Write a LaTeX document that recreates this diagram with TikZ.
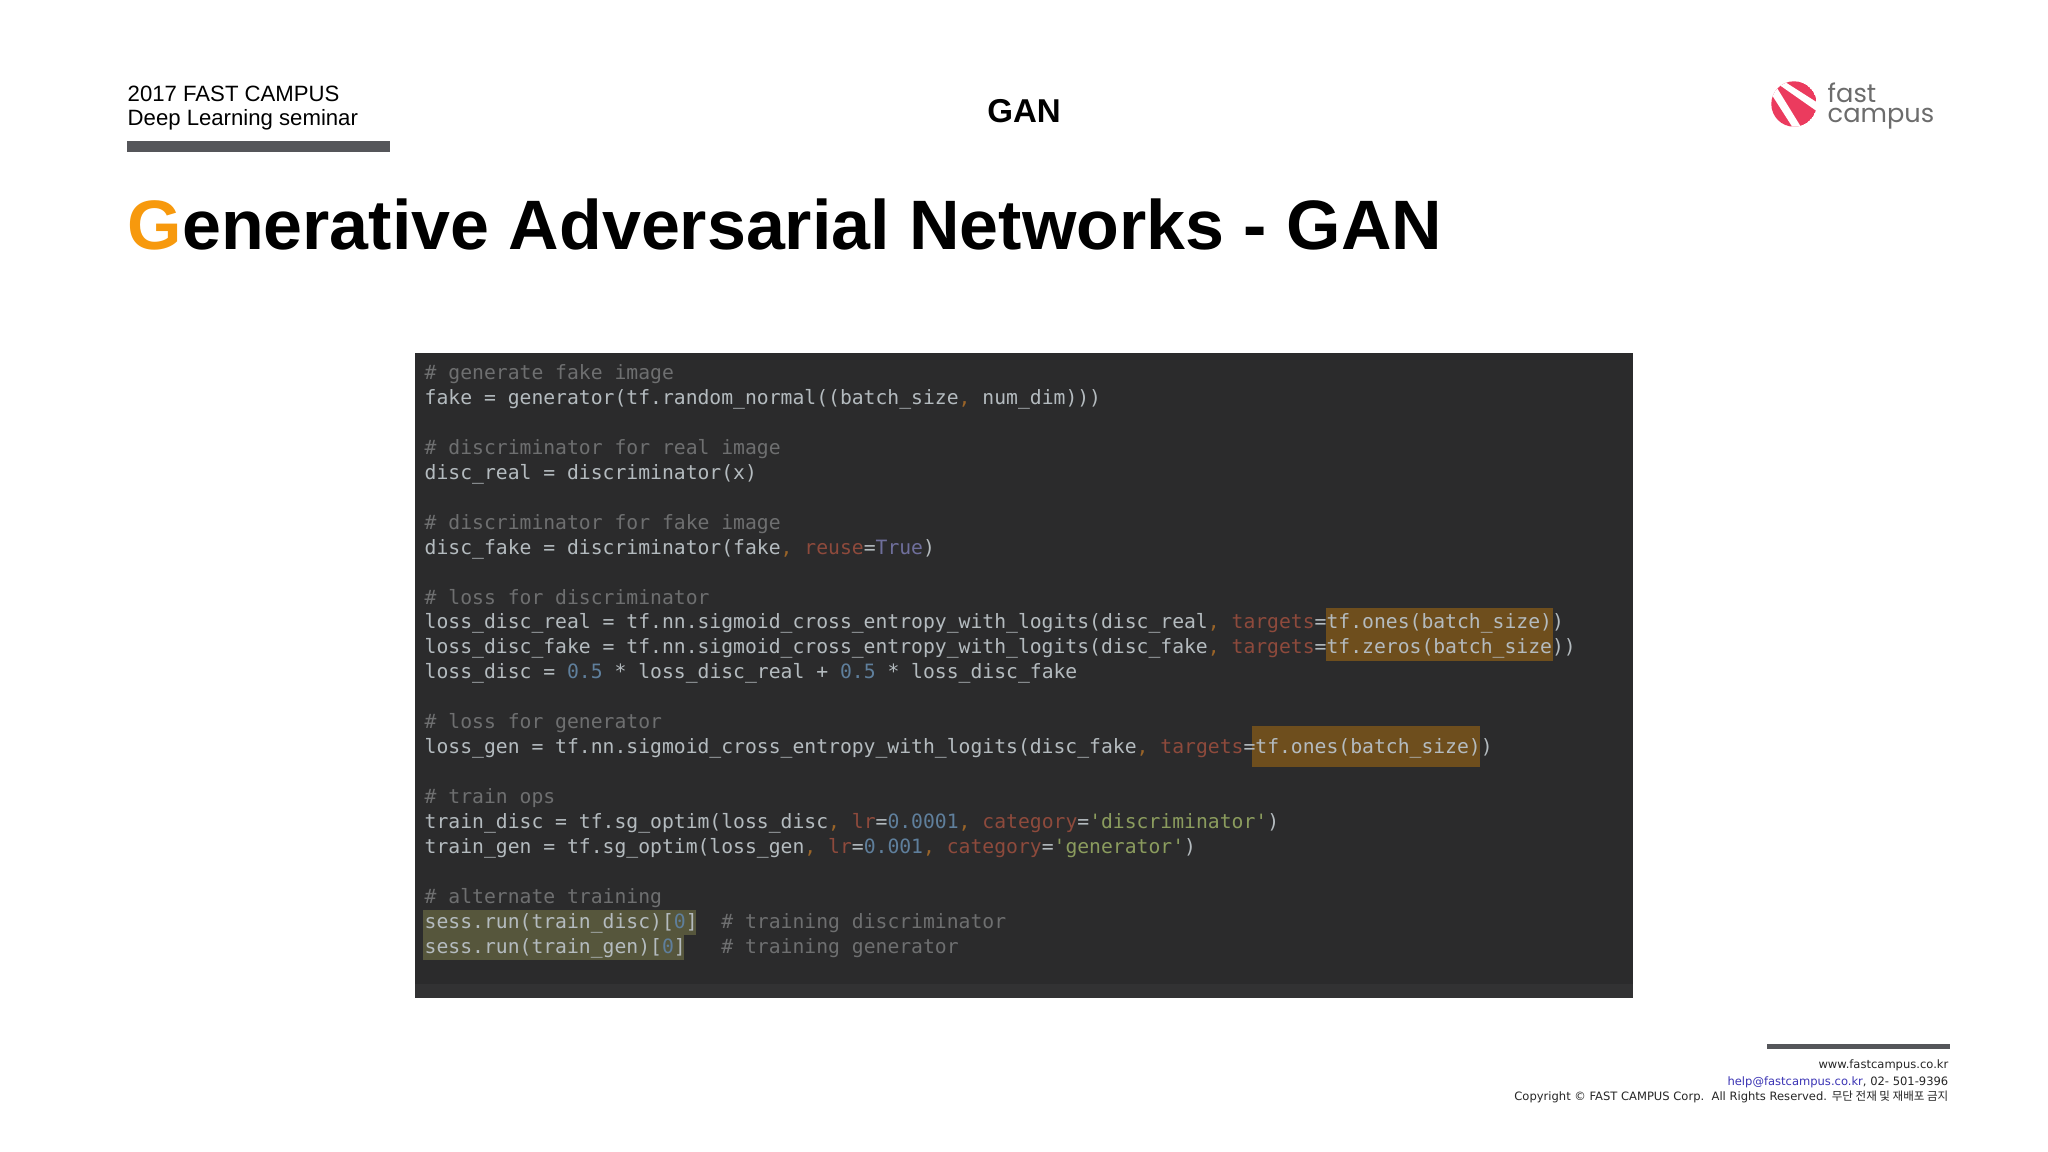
\documentclass[tikz,border=0pt]{standalone}
\usepackage{fontspec}
\setmainfont{Liberation Sans}
\newfontfamily\codefont{DejaVu Sans Mono}
\newfontfamily\footfont{DejaVu Sans}
\newfontfamily\krfont{Noto Sans CJK KR}
\newfontfamily\logofont{Poppins}
\definecolor{panelbg}{HTML}{2B2B2C}
\definecolor{panelband}{HTML}{323233}
\definecolor{codefg}{HTML}{B4BBBF}
\definecolor{cmtfg}{HTML}{6E6F70}
\definecolor{argfg}{HTML}{8E4A3C}
\definecolor{commafg}{HTML}{9A6428}
\definecolor{numfg}{HTML}{5F7F9C}
\definecolor{strfg}{HTML}{8B9C5E}
\definecolor{truefg}{HTML}{6F6F9C}
\definecolor{hiorange}{HTML}{6E4E1D}
\definecolor{hiolive}{HTML}{56563C}
\definecolor{barfg}{HTML}{55565A}
\definecolor{logored}{HTML}{EB3B5E}
\definecolor{logofg}{HTML}{6C6C6C}
\definecolor{titleorange}{HTML}{F7990D}
\definecolor{mailblue}{HTML}{3A33B4}
\newcommand{\Cm}[1]{\textcolor{cmtfg}{#1}}
\newcommand{\Ar}[1]{\textcolor{argfg}{#1}}
\newcommand{\Nm}[1]{\textcolor{numfg}{#1}}
\newcommand{\Cc}{\textcolor{commafg}{,}}
\tikzset{
  codeline/.style={anchor=base west, inner sep=0pt, text=codefg, font=\codefont\fontsize{5.605}{6.7}\selectfont},
  footline/.style={anchor=base east, inner sep=0pt, text=black!85, font=\footfont\fontsize{3.28}{4}\selectfont},
  headline/.style={anchor=base west, inner sep=0pt, text=black, font=\fontsize{6.3}{7.5}\selectfont},
  logoline/.style={anchor=base west, inner sep=0pt, text=logofg, font=\logofont\fontsize{7.3}{8}\selectfont},
}
\begin{document}
\begin{tikzpicture}[x=0.01cm, y=-0.01cm]
\newcommand{\Codex}{424}; % left edge of code
\newcommand{\Codey}{379.5}; % first baseline
\newcommand{\Lineh}{24.95}; % line pitch

\useasboundingbox (0, 0) rectangle (2048, 1152);
\fill[white] (0, 0) rectangle (2048, 1152);

% header
\node[headline] (hdyear) at (127, 102) {2017 FAST CAMPUS};
\node[headline] (hdsem)  at (127, 126) {Deep Learning seminar};
\fill[barfg] (127, 141) rectangle (390, 152);
\node[anchor=base, inner sep=0pt, font=\bfseries\fontsize{9.4}{11}\selectfont] (hdgan) at (1024, 123) {GAN};
\node[anchor=base west, inner sep=0pt, font=\bfseries\fontsize{19.9}{24}\selectfont] (title) at (127, 250)
  {\textcolor{titleorange}{G}enerative Adversarial Networks - GAN};

% logo
\begin{scope}
\clip (1794, 104) circle[radius=22.7];
\fill[logored] (1794, 104) circle[radius=22.7];
\fill[white] (1778, 84) -- (1785, 82) -- (1818, 103) -- (1818, 112) -- cycle;
\fill[white] (1777, 88) -- (1770, 92) -- (1793, 128) -- (1801, 127) -- cycle;
\end{scope}
\node[logoline] (logofast) at (1827, 103) {fast};
\node[logoline] (logocamp) at (1827, 123) {campus};

% code panel
\fill[panelbg] (415, 353) rectangle (1633, 998);
\fill[panelband] (415, 984) rectangle (1633, 998);
\fill[hiorange] (1326, 608) rectangle (1553, 661);
\fill[hiorange] (1252, 726) rectangle (1480, 767);
\fill[hiolive] (423, 910) rectangle (696, 935);
\fill[hiolive] (423, 935) rectangle (684, 960);

\node[codeline] (c0)  at (\Codex, {\Codey + 0*\Lineh})  {\Cm{\# generate fake image}};
\node[codeline] (c1)  at (\Codex, {\Codey + 1*\Lineh})  {fake = generator(tf.random\_normal((batch\_size\Cc{} num\_dim)))};
\node[codeline] (c3)  at (\Codex, {\Codey + 3*\Lineh})  {\Cm{\# discriminator for real image}};
\node[codeline] (c4)  at (\Codex, {\Codey + 4*\Lineh})  {disc\_real = discriminator(x)};
\node[codeline] (c6)  at (\Codex, {\Codey + 6*\Lineh})  {\Cm{\# discriminator for fake image}};
\node[codeline] (c7)  at (\Codex, {\Codey + 7*\Lineh})  {disc\_fake = discriminator(fake\Cc{} \Ar{reuse}=\textcolor{truefg}{True})};
\node[codeline] (c9)  at (\Codex, {\Codey + 9*\Lineh})  {\Cm{\# loss for discriminator}};
\node[codeline] (c10) at (\Codex, {\Codey + 10*\Lineh}) {loss\_disc\_real = tf.nn.sigmoid\_cross\_entropy\_with\_logits(disc\_real\Cc{} \Ar{targets}=tf.ones(batch\_size))};
\node[codeline] (c11) at (\Codex, {\Codey + 11*\Lineh}) {loss\_disc\_fake = tf.nn.sigmoid\_cross\_entropy\_with\_logits(disc\_fake\Cc{} \Ar{targets}=tf.zeros(batch\_size))};
\node[codeline] (c12) at (\Codex, {\Codey + 12*\Lineh}) {loss\_disc = \Nm{0.5} * loss\_disc\_real + \Nm{0.5} * loss\_disc\_fake};
\node[codeline] (c14) at (\Codex, {\Codey + 14*\Lineh}) {\Cm{\# loss for generator}};
\node[codeline] (c15) at (\Codex, {\Codey + 15*\Lineh}) {loss\_gen = tf.nn.sigmoid\_cross\_entropy\_with\_logits(disc\_fake\Cc{} \Ar{targets}=tf.ones(batch\_size))};
\node[codeline] (c17) at (\Codex, {\Codey + 17*\Lineh}) {\Cm{\# train ops}};
\node[codeline] (c18) at (\Codex, {\Codey + 18*\Lineh}) {train\_disc = tf.sg\_optim(loss\_disc\Cc{} \Ar{lr}=\Nm{0.0001}\Cc{} \Ar{category}=\textcolor{strfg}{'discriminator'})};
\node[codeline] (c19) at (\Codex, {\Codey + 19*\Lineh}) {train\_gen = tf.sg\_optim(loss\_gen\Cc{} \Ar{lr}=\Nm{0.001}\Cc{} \Ar{category}=\textcolor{strfg}{'generator'})};
\node[codeline] (c21) at (\Codex, {\Codey + 21*\Lineh}) {\Cm{\# alternate training}};
\node[codeline] (c22) at (\Codex, {\Codey + 22*\Lineh}) {sess.run(train\_disc)[\Nm{0}]\ \ \Cm{\# training discriminator}};
\node[codeline] (c23) at (\Codex, {\Codey + 23*\Lineh}) {sess.run(train\_gen)[\Nm{0}]\ \ \ \Cm{\# training generator}};

% footer
\fill[barfg] (1767, 1044) rectangle (1950, 1049);
\node[footline] (ftweb)  at (1949, 1068) {www.fastcampus.co.kr};
\node[footline] (ftmail) at (1949, 1085) {\textcolor{mailblue}{help@fastcampus.co.kr}, 02- 501-9396};
\node[footline] (ftcopy) at (1949, 1100) {Copyright © FAST CAMPUS Corp.\ \ All Rights Reserved. {\krfont 무단 전재 및 재배포 금지}};
\end{tikzpicture}
\end{document}
